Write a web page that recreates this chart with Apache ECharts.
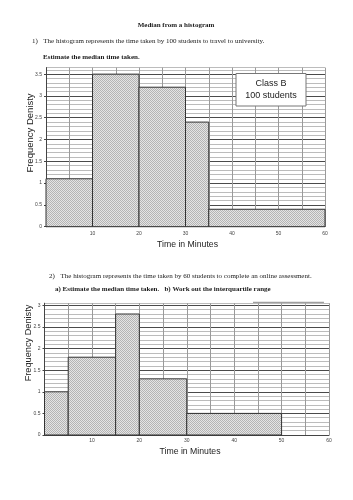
<!DOCTYPE html>
<html>
<head>
<meta charset="utf-8">
<script src="https://cdn.jsdelivr.net/npm/echarts@6/dist/echarts.min.js"></script>
<style>
  html, body { margin: 0; padding: 0; background: #fff; }
  #chart { width: 353px; height: 500px; }
</style>
</head>
<body>
<div id="chart"></div>
<script>
// class edges (minutes) and frequency density for each histogram
const edges1 = [0, 10, 20, 30, 35, 60];
const density1 = [1.1, 3.5, 3.2, 2.4, 0.4];
const edges2 = [0, 5, 15, 20, 30, 50];
const density2 = [1.0, 1.8, 2.8, 1.3, 0.5];

const yLabels1 = [0, 0.5, 1, 1.5, 2, 2.5, 3, 3.5];
const yLabels2 = [0, 0.5, 1, 1.5, 2, 2.5, 3];
const xLabels = [10, 20, 30, 40, 50, 60];

// checkered fill like the worksheet shading
const tile = document.createElement("canvas");
tile.width = 2;
tile.height = 2;
const tctx = tile.getContext("2d");
tctx.fillStyle = "#e4e4e4";
tctx.fillRect(0, 0, 2, 2);
tctx.fillStyle = "#b4b4b4";
tctx.fillRect(0, 0, 1, 1);
tctx.fillRect(1, 1, 1, 1);
const shade = { image: tile, repeat: "repeat" };

const toRows = (edges, dens) => dens.map((d, i) => [edges[i], edges[i + 1], d]);

const histItem = (params, api) => {
  const p0 = api.coord([api.value(0), api.value(2)]);
  const p1 = api.coord([api.value(1), 0]);
  return {
    type: "rect",
    shape: { x: p0[0], y: p0[1], width: p1[0] - p0[0], height: p1[1] - p0[1] },
    style: { fill: shade, stroke: "#333", lineWidth: 1 }
  };
};

const serif = "'Liberation Serif', 'DejaVu Serif', serif";
const sans = "'Liberation Sans', Arial, sans-serif";

const makeX = (gi) => ({
  type: "value",
  gridIndex: gi,
  min: 0,
  max: 60,
  interval: 5,
  axisLine: { show: true, lineStyle: { color: "#444", width: 1 } },
  axisTick: { show: false },
  axisLabel: { customValues: xLabels, fontSize: 5, color: "#444", margin: gi === 0 ? 4 : 3, fontFamily: sans },
  splitLine: { show: true, lineStyle: { color: "#9a9a9a", width: 1 } }
});

// light lines every 0.1
const minorY = (gi, max) => ({
  type: "value",
  gridIndex: gi,
  min: 0,
  max: max,
  interval: 0.1,
  position: "right",
  axisLine: { show: false },
  axisTick: { show: false },
  axisLabel: { show: false },
  splitLine: { show: true, lineStyle: { color: "#bcbcbc", width: 1 } }
});

// dark lines and labels every 0.5
const majorY = (gi, max, labels) => ({
  type: "value",
  gridIndex: gi,
  min: 0,
  max: max,
  interval: 0.5,
  position: "left",
  axisLine: { show: true, lineStyle: { color: "#444", width: 1 } },
  axisTick: { show: true, customValues: labels, length: 2, lineStyle: { color: "#444" } },
  axisLabel: { customValues: labels, fontSize: 5, color: "#444", margin: 4, fontFamily: sans },
  splitLine: { show: true, lineStyle: { color: "#4a4a4a", width: 1 } }
});

const text = (x, y, str, size, bold) => ({
  type: "text",
  x: x,
  y: y,
  style: {
    text: str,
    font: (bold ? "bold " : "") + size + "px " + serif,
    fill: "#1a1a1a",
    verticalAlign: "middle"
  }
});

const chart = echarts.init(document.getElementById("chart"));

chart.setOption({
  backgroundColor: "#fff",
  animation: false,
  grid: [
    { left: 46, top: 67.6, width: 279, height: 159.1 },
    { left: 44.5, top: 303.2, width: 284.5, height: 131.8 }
  ],
  xAxis: [makeX(0), makeX(1)],
  yAxis: [minorY(0, 3.65), majorY(0, 3.65, yLabels1), minorY(1, 3.05), majorY(1, 3.05, yLabels2)],
  series: [
    {
      type: "custom",
      xAxisIndex: 0,
      yAxisIndex: 1,
      z: 3,
      renderItem: histItem,
      data: toRows(edges1, density1)
    },
    {
      type: "custom",
      xAxisIndex: 1,
      yAxisIndex: 3,
      z: 3,
      renderItem: histItem,
      data: toRows(edges2, density2)
    }
  ],
  graphic: [
    {
      type: "text",
      x: 176,
      y: 25,
      style: { text: "Median from a histogram", font: "bold 7px " + serif, fill: "#1a1a1a", align: "center", verticalAlign: "middle" }
    },
    text(32, 41, "1)", 7, false),
    text(43.3, 41, "The histogram represents the time taken by 100 students to travel to university.", 7, false),
    text(43, 57, "Estimate the median time taken.", 7, true),
    text(49, 276, "2)", 7, false),
    text(60.5, 276, "The histogram represents the time taken by 60 students to complete an online assessment.", 7, false),
    text(55, 289, "a) Estimate the median time taken.   b) Work out the interquartile range", 7, true),
    {
      type: "text",
      x: 30,
      y: 133,
      rotation: Math.PI / 2,
      style: { text: "Frequency Denisty", font: "9.5px " + sans, fill: "#222", align: "center", verticalAlign: "middle" }
    },
    {
      type: "text",
      x: 28,
      y: 343,
      rotation: Math.PI / 2,
      style: { text: "Frequency Denisty", font: "9.2px " + sans, fill: "#222", align: "center", verticalAlign: "middle" }
    },
    {
      type: "text",
      x: 187.5,
      y: 245,
      style: { text: "Time in Minutes", font: "8.7px " + sans, fill: "#222", align: "center", verticalAlign: "middle" }
    },
    {
      type: "text",
      x: 190,
      y: 452,
      style: { text: "Time in Minutes", font: "8.7px " + sans, fill: "#222", align: "center", verticalAlign: "middle" }
    },
    // "Class B" label box
    {
      type: "rect",
      z: 100,
      shape: { x: 236, y: 73.5, width: 70, height: 32.5 },
      style: { fill: "#fff", stroke: "#777", lineWidth: 1 }
    },
    {
      type: "text",
      z: 101,
      x: 271,
      y: 84,
      style: { text: "Class B", font: "9px " + sans, fill: "#222", align: "center", verticalAlign: "middle" }
    },
    {
      type: "text",
      z: 101,
      x: 271,
      y: 95.7,
      style: { text: "100 students", font: "9px " + sans, fill: "#222", align: "center", verticalAlign: "middle" }
    },
    // edge of a cropped box above the second chart
    {
      type: "line",
      z: 100,
      shape: { x1: 253, y1: 302.3, x2: 324, y2: 302.3 },
      style: { stroke: "#888", lineWidth: 1 }
    }
  ]
});
</script>
</body>
</html>
